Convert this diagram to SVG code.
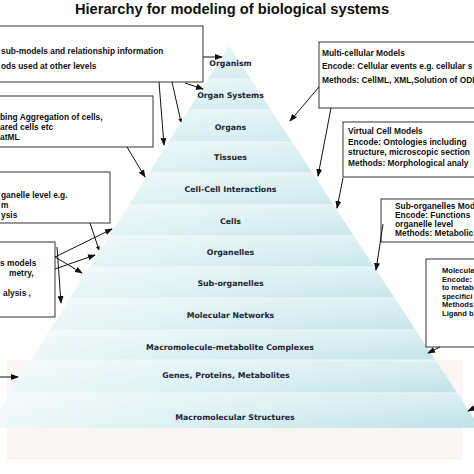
<svg xmlns="http://www.w3.org/2000/svg" width="474" height="474" viewBox="0 0 474 474">
<defs>
<clipPath id="pyr"><polygon points="229,46 -12,428 480,428"/></clipPath>
<linearGradient id="bandH" gradientUnits="userSpaceOnUse" x1="0" y1="0" x2="474" y2="0">
<stop offset="0" stop-color="#eef8f9"/>
<stop offset="0.45" stop-color="#d6eef2"/>
<stop offset="1" stop-color="#bfe2e8"/>
</linearGradient>
<linearGradient id="bandV" x1="0" y1="0" x2="0" y2="1">
<stop offset="0" stop-color="#ffffff" stop-opacity="0.45"/>
<stop offset="1" stop-color="#ffffff" stop-opacity="0"/>
</linearGradient>
<marker id="ah" markerWidth="8" markerHeight="6" refX="7" refY="3" orient="auto" markerUnits="userSpaceOnUse">
<path d="M0,0 L8,3 L0,6 z" fill="#111"/>
</marker>
<marker id="ahs" markerWidth="4" markerHeight="4" refX="3.5" refY="2" orient="auto" markerUnits="userSpaceOnUse">
<path d="M0,0 L4,2 L0,4 z" fill="#111"/>
</marker>
</defs>
<style>
.title{font-family:"Liberation Sans",Arial,sans-serif;font-weight:bold;font-size:14.7px;fill:#111;text-anchor:middle}
.lvl{font-family:"DejaVu Sans",Verdana,sans-serif;font-weight:bold;font-size:7.8px;fill:#1b2535;text-anchor:middle}
.bx{fill:#fff;stroke:#333;stroke-width:1}
.bt{font-family:"Liberation Sans",Arial,sans-serif;font-weight:bold;font-size:8.4px;fill:#111}
.bs{font-family:"Liberation Sans",Arial,sans-serif;font-weight:bold;font-size:7.6px;fill:#111}
.band{fill:url(#bandH)}
.shade{fill:url(#bandV)}
.sep{stroke:#f2fafb;stroke-width:1.2}
.cn{stroke:#111;stroke-width:1;fill:none}
</style>
<rect width="474" height="474" fill="#fff"/>
<rect x="7" y="360" width="456" height="100" fill="#faf6f4"/>
<text class="title" x="232" y="13.5">Hierarchy for modeling of biological systems</text>

<g id="pyramid">
<g id="bands" clip-path="url(#pyr)">
<rect class="band" x="0" y="46" width="474" height="33"/><rect class="shade" x="0" y="46" width="474" height="33"/>
<rect class="band" x="0" y="79" width="474" height="31"/><rect class="shade" x="0" y="79" width="474" height="31"/>
<rect class="band" x="0" y="110" width="474" height="32"/><rect class="shade" x="0" y="110" width="474" height="32"/>
<rect class="band" x="0" y="142" width="474" height="31"/><rect class="shade" x="0" y="142" width="474" height="31"/>
<rect class="band" x="0" y="173" width="474" height="32"/><rect class="shade" x="0" y="173" width="474" height="32"/>
<rect class="band" x="0" y="205" width="474" height="31"/><rect class="shade" x="0" y="205" width="474" height="31"/>
<rect class="band" x="0" y="236" width="474" height="31"/><rect class="shade" x="0" y="236" width="474" height="31"/>
<rect class="band" x="0" y="267" width="474" height="31"/><rect class="shade" x="0" y="267" width="474" height="31"/>
<rect class="band" x="0" y="298" width="474" height="32"/><rect class="shade" x="0" y="298" width="474" height="32"/>
<rect class="band" x="0" y="330" width="474" height="30"/><rect class="shade" x="0" y="330" width="474" height="30"/>
<rect class="band" x="0" y="360" width="474" height="33"/><rect class="shade" x="0" y="360" width="474" height="33"/>
<rect class="band" x="0" y="393" width="474" height="35"/><rect class="shade" x="0" y="393" width="474" height="35"/>
<line class="sep" x1="0" y1="79" x2="474" y2="79"/><line class="sep" x1="0" y1="110" x2="474" y2="110"/>
<line class="sep" x1="0" y1="142" x2="474" y2="142"/><line class="sep" x1="0" y1="173" x2="474" y2="173"/>
<line class="sep" x1="0" y1="205" x2="474" y2="205"/><line class="sep" x1="0" y1="236" x2="474" y2="236"/>
<line class="sep" x1="0" y1="267" x2="474" y2="267"/><line class="sep" x1="0" y1="298" x2="474" y2="298"/>
<line class="sep" x1="0" y1="330" x2="474" y2="330"/><line class="sep" x1="0" y1="360" x2="474" y2="360"/>
<line class="sep" x1="0" y1="393" x2="474" y2="393"/>
</g>
<g id="lvl-organism"><text class="lvl" x="230.5" y="66">Organism</text></g>
<g id="lvl-organsystems"><text class="lvl" x="230.5" y="98">Organ Systems</text></g>
<g id="lvl-organs"><text class="lvl" x="230.5" y="130">Organs</text></g>
<g id="lvl-tissues"><text class="lvl" x="230.5" y="160">Tissues</text></g>
<g id="lvl-cellcell"><text class="lvl" x="230.5" y="192">Cell-Cell Interactions</text></g>
<g id="lvl-cells"><text class="lvl" x="230.5" y="224">Cells</text></g>
<g id="lvl-organelles"><text class="lvl" x="230.5" y="255">Organelles</text></g>
<g id="lvl-suborganelles"><text class="lvl" x="230.5" y="286">Sub-organelles</text></g>
<g id="lvl-molnet"><text class="lvl" x="230.5" y="318">Molecular Networks</text></g>
<g id="lvl-macromet"><text class="lvl" x="230" y="349.5">Macromolecule-metabolite Complexes</text></g>
<g id="lvl-genes"><text class="lvl" x="226" y="378">Genes, Proteins, Metabolites</text></g>
<g id="lvl-macrostruct"><text class="lvl" x="235" y="420">Macromolecular Structures</text></g>
</g>

<g id="box-l1"><rect class="bx" x="-5" y="26" width="208" height="56"/>
<text class="bt" x="1" y="54">sub-models and relationship information</text>
<text class="bt" x="1" y="69">ods used at other levels</text></g>
<g id="box-l2"><rect class="bx" x="-5" y="96" width="158" height="51"/>
<text class="bt" x="0" y="120">bing Aggregation of cells,</text>
<text class="bt" x="0" y="130">ared cells etc</text>
<text class="bt" x="0" y="140">atML</text></g>
<g id="box-l3"><rect class="bx" x="-5" y="172" width="115" height="51"/>
<text class="bt" x="1" y="198">ganelle level e.g.</text>
<text class="bt" x="1" y="208">m</text>
<text class="bt" x="1" y="218">ysis</text></g>
<g id="box-l4"><rect class="bx" x="-5" y="242" width="60" height="75"/>
<text class="bt" x="0" y="266">s models</text>
<text class="bt" x="9" y="276">metry,</text>
<text class="bt" x="3" y="296">alysis ,</text></g>

<g id="box-r1"><rect class="bx" x="319" y="42" width="170" height="66"/>
<text class="bt" x="322" y="56">Multi-cellular Models</text>
<text class="bt" x="322" y="69">Encode: Cellular events e.g. cellular s</text>
<text class="bt" x="322" y="83">Methods: CellML, XML,Solution of ODI</text></g>
<g id="box-r2"><rect class="bx" x="343" y="122" width="150" height="55"/>
<text class="bt" x="348" y="134">Virtual Cell Models</text>
<text class="bt" x="348" y="144.5">Encode: Ontologies including</text>
<text class="bt" x="348" y="155">structure, microscopic section</text>
<text class="bt" x="348" y="165.5">Methods: Morphological analy</text></g>
<g id="box-r3"><rect class="bx" x="381" y="199" width="110" height="43"/>
<text class="bt" x="395" y="209">Sub-organelles Mod</text>
<text class="bt" x="395" y="218">Encode: Functions</text>
<text class="bt" x="395" y="227">organelle level</text>
<text class="bt" x="395" y="236">Methods: Metabolic</text></g>
<g id="box-r4"><rect class="bx" x="426" y="259" width="60" height="88"/>
<text class="bs" x="442" y="273">Molecula</text>
<text class="bs" x="442" y="281.5">Encode:</text>
<text class="bs" x="442" y="290">to metab</text>
<text class="bs" x="442" y="298.5">specifici</text>
<text class="bs" x="442" y="307">Methods</text>
<text class="bs" x="442" y="315.5">Ligand b</text></g>

<g id="connectors">
<line class="cn" x1="203" y1="57" x2="222" y2="57" marker-end="url(#ah)"/>
<line class="cn" x1="185" y1="83" x2="203" y2="89" marker-end="url(#ah)"/>
<line class="cn" x1="159" y1="82" x2="164" y2="145" marker-end="url(#ah)"/>
<line class="cn" x1="172" y1="82" x2="181" y2="122" marker-end="url(#ahs)"/>
<line class="cn" x1="127" y1="147" x2="145" y2="177" marker-end="url(#ah)"/>
<line class="cn" x1="90" y1="223" x2="99" y2="250" marker-end="url(#ahs)"/>
<line class="cn" x1="55" y1="257" x2="112" y2="229" marker-end="url(#ah)"/>
<line class="cn" x1="55" y1="269" x2="95" y2="255" marker-end="url(#ah)"/>
<line class="cn" x1="55" y1="257" x2="82" y2="273" marker-end="url(#ah)"/>
<line class="cn" x1="57" y1="247" x2="61" y2="303" marker-end="url(#ah)"/>
<line class="cn" x1="0" y1="377" x2="18" y2="377" marker-end="url(#ah)"/>
<line class="cn" x1="319" y1="87" x2="290" y2="121" marker-end="url(#ah)"/>
<line class="cn" x1="331" y1="108" x2="318" y2="176" marker-end="url(#ah)"/>
<line class="cn" x1="343" y1="178" x2="337" y2="208" marker-end="url(#ah)"/>
<line class="cn" x1="383" y1="224" x2="376" y2="270" marker-end="url(#ah)"/>
<line class="cn" x1="440" y1="347" x2="428" y2="353" marker-end="url(#ah)"/>
<line class="cn" x1="478" y1="406" x2="468" y2="411" marker-end="url(#ah)"/>
</g>
</svg>
